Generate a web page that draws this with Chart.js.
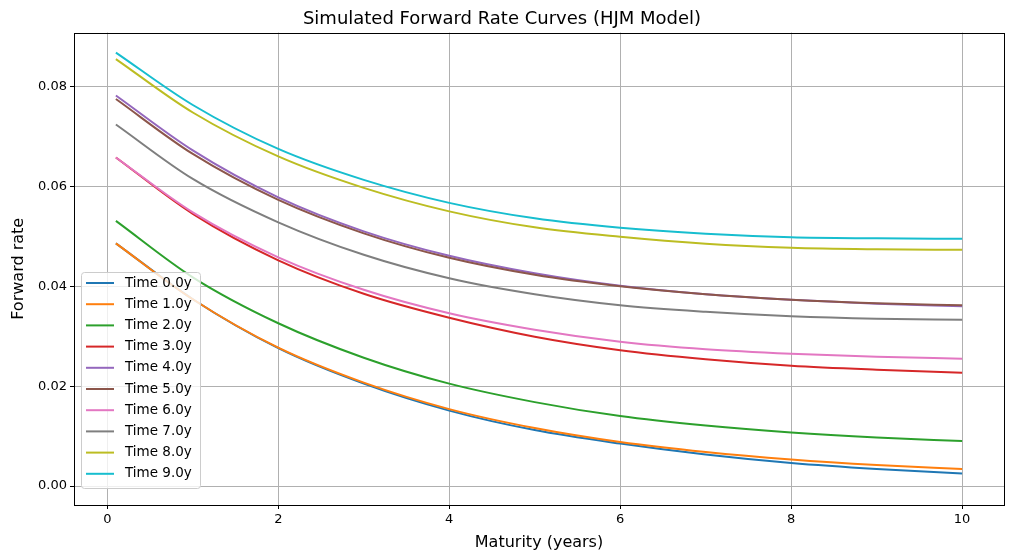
<!DOCTYPE html>
<html>
<head>
<meta charset="utf-8">
<script src="https://cdn.jsdelivr.net/npm/chart.js@4.4.1/dist/chart.umd.min.js"></script>
<style>
  html, body { margin: 0; padding: 0; background: #fff; }
  #wrap { width: 1014px; height: 552px; }
</style>
</head>
<body>
<div id="wrap"><canvas id="fwdChart" width="1014" height="552"></canvas></div>
<script>
'use strict';

// Maturities (years) where values were read
const maturities = [0.1, 1, 2, 3, 4, 5, 6, 7, 8, 9, 10];

// Forward rate per simulation time
const time0 = [0.0486, 0.0374, 0.0276, 0.0205, 0.0151, 0.0112, 0.0085, 0.0063, 0.0046, 0.0034, 0.0025];
const time1 = [0.0486, 0.0374, 0.0277, 0.0207, 0.0154, 0.0116, 0.0088, 0.0068, 0.0053, 0.0042, 0.0034];
const time2 = [0.0531, 0.0418, 0.0326, 0.0257, 0.0205, 0.0168, 0.0140, 0.0121, 0.0107, 0.0097, 0.0090];
const time3 = [0.0658, 0.0545, 0.0452, 0.0385, 0.0337, 0.0299, 0.0272, 0.0254, 0.0241, 0.0233, 0.0227];
const time4 = [0.0782, 0.0672, 0.0578, 0.0510, 0.0461, 0.0426, 0.0401, 0.0384, 0.0373, 0.0365, 0.0360];
const time5 = [0.0775, 0.0665, 0.0573, 0.0506, 0.0457, 0.0423, 0.0400, 0.0384, 0.0373, 0.0366, 0.0362];
const time6 = [0.0658, 0.0548, 0.0458, 0.0393, 0.0346, 0.0313, 0.0289, 0.0274, 0.0265, 0.0259, 0.0255];
const time7 = [0.0724, 0.0615, 0.0528, 0.0463, 0.0416, 0.0384, 0.0362, 0.0349, 0.0340, 0.0335, 0.0333];
const time8 = [0.0855, 0.0748, 0.0660, 0.0597, 0.0550, 0.0518, 0.0499, 0.0485, 0.0477, 0.0474, 0.0473];
const time9 = [0.0868, 0.0763, 0.0675, 0.0613, 0.0567, 0.0536, 0.0517, 0.0505, 0.0498, 0.0496, 0.0495];

const seriesLabels = ['Time 0.0y', 'Time 1.0y', 'Time 2.0y', 'Time 3.0y', 'Time 4.0y',
                      'Time 5.0y', 'Time 6.0y', 'Time 7.0y', 'Time 8.0y', 'Time 9.0y'];
const seriesData = [time0, time1, time2, time3, time4, time5, time6, time7, time8, time9];
const colors = ['#1f77b4', '#ff7f0e', '#2ca02c', '#d62728', '#9467bd',
                '#8c564b', '#e377c2', '#7f7f7f', '#bcbd22', '#17becf'];

// Tick labels
const xTicks = [0, 2, 4, 6, 8, 10];
const yTicks = [0, 0.02, 0.04, 0.06, 0.08];

const FONT = 'DejaVu Sans, sans-serif';

// Black frame around the plot area
const framePlugin = {
    id: 'frame',
    afterDatasetsDraw: (chart) => {
        const a = chart.chartArea;
        const ctx = chart.ctx;
        ctx.save();
        ctx.strokeStyle = '#000';
        ctx.lineWidth = 1;
        ctx.strokeRect(Math.round(a.left) + 0.5, Math.round(a.top) + 0.5,
                       Math.round(a.right - a.left), Math.round(a.bottom - a.top));
        ctx.restore();
    }
};

// Legend inside plot area, lower left (like matplotlib 'best')
const innerLegend = {
    id: 'innerLegend',
    afterDraw: (chart) => {
        const ctx = chart.ctx;
        const a = chart.chartArea;
        const rowH = 21.2;
        const x0 = a.left + 7;
        const boxW = 119;
        const boxH = seriesLabels.length * rowH + 4;
        const y0 = a.bottom - 17 - boxH;
        ctx.save();
        ctx.beginPath();
        ctx.roundRect(x0 + 0.5, y0 + 0.5, boxW, boxH, 3);
        ctx.fillStyle = 'rgba(255,255,255,0.8)';
        ctx.fill();
        ctx.strokeStyle = '#cccccc';
        ctx.lineWidth = 1;
        ctx.stroke();
        ctx.font = '13.5px ' + FONT;
        ctx.textBaseline = 'middle';
        seriesLabels.forEach((lbl, i) => {
            const cy = y0 + 11 + i * rowH;
            ctx.strokeStyle = colors[i];
            ctx.lineWidth = 2;
            ctx.beginPath();
            ctx.moveTo(x0 + 5, cy);
            ctx.lineTo(x0 + 33, cy);
            ctx.stroke();
            ctx.fillStyle = '#000';
            ctx.fillText(lbl, x0 + 44, cy);
        });
        ctx.restore();
    }
};

const datasets = seriesData.map((vals, i) => ({
    label: seriesLabels[i],
    data: maturities.map((m, j) => ({ x: m, y: vals[j] })),
    borderColor: colors[i],
    backgroundColor: colors[i],
    borderWidth: 2,
    pointRadius: 0,
    cubicInterpolationMode: 'monotone',
    order: seriesData.length - i
}));

const ctx = document.getElementById('fwdChart').getContext('2d');
new Chart(ctx, {
    type: 'line',
    data: { datasets: datasets },
    options: {
        responsive: false,
        animation: false,
        devicePixelRatio: 1,
        layout: { padding: { left: 0, right: 10, top: 0, bottom: 0 } },
        scales: {
            x: {
                type: 'linear',
                min: -0.39,
                max: 10.49,
                afterBuildTicks: (scale) => { scale.ticks = xTicks.map(v => ({ value: v })); },
                afterFit: (scale) => { scale.height = 47; },
                ticks: {
                    color: '#000',
                    font: { family: FONT, size: 13 },
                    padding: 3,
                    maxRotation: 0,
                    callback: (v) => String(v)
                },
                grid: { color: '#b0b0b0', lineWidth: 1, tickColor: '#000', tickLength: 4 },
                border: { display: false },
                title: {
                    display: true,
                    text: 'Maturity (years)',
                    color: '#000',
                    font: { family: FONT, size: 16 },
                    padding: { top: 2, bottom: 0 }
                }
            },
            y: {
                type: 'linear',
                min: -0.0038,
                max: 0.0908,
                afterBuildTicks: (scale) => { scale.ticks = yTicks.map(v => ({ value: v })); },
                afterFit: (scale) => { scale.width = 74; },
                ticks: {
                    color: '#000',
                    font: { family: FONT, size: 13 },
                    padding: 3,
                    callback: (v) => v.toFixed(2)
                },
                grid: { color: '#b0b0b0', lineWidth: 1, tickColor: '#000', tickLength: 4 },
                border: { display: false },
                title: {
                    display: true,
                    text: 'Forward rate',
                    color: '#000',
                    font: { family: FONT, size: 16 },
                    padding: { top: 9, bottom: 0 }
                }
            }
        },
        plugins: {
            legend: { display: false },
            tooltip: { enabled: false },
            title: {
                display: true,
                text: 'Simulated Forward Rate Curves (HJM Model)',
                color: '#000',
                font: { family: FONT, size: 18, weight: 'normal' },
                padding: { top: 9, bottom: 2 }
            }
        }
    },
    plugins: [framePlugin, innerLegend]
});
</script>
</body>
</html>
